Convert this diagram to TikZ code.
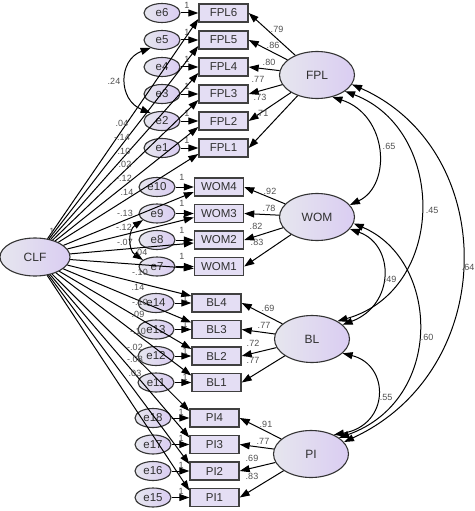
\documentclass[tikz,border=0pt]{standalone}
\usepackage{fontspec}
\setmainfont{Liberation Sans}
\usetikzlibrary{arrows.meta,calc,shapes.geometric}
\definecolor{boxfill}{HTML}{E4DEF4}
\definecolor{ellL}{HTML}{E6E6EE}
\definecolor{ellR}{HTML}{DACDF2}
\definecolor{txt}{HTML}{303030}
\definecolor{lbl}{HTML}{505050}
\begin{document}
\begin{tikzpicture}[x=1pt,y=-1pt,
  ind/.style={draw=black!75,line width=1.4pt,fill=boxfill,minimum width=49pt,minimum height=18pt,inner sep=0pt,font=\fontsize{11.5}{12}\selectfont,text=txt},
  err/.style={ellipse,draw=black!80,line width=1.1pt,left color=ellL,right color=ellR,minimum width=36pt,minimum height=19pt,inner sep=0pt,font=\fontsize{11.5}{12}\selectfont,text=txt},
  lat/.style={ellipse,draw=black!80,line width=1.1pt,left color=ellL,right color=ellR,minimum width=75pt,minimum height=47pt,inner sep=0pt,font=\fontsize{12}{13}\selectfont,text=txt},
  arr/.style={-{Triangle[length=10pt,width=7pt]},line width=1pt,black},
  cor/.style={{Triangle[length=10pt,width=7pt]}-{Triangle[length=10pt,width=7pt]},line width=1pt,black},
  num/.style={font=\fontsize{9}{10}\selectfont,text=lbl,inner sep=0pt},
]
\useasboundingbox (0,0) rectangle (474,511);

% latent variables
\node[lat,minimum width=70pt,minimum height=38pt] (clf) at (35,257) {CLF};
\node[lat] (fpl) at (317,75) {FPL};
\node[lat] (wom) at (317,217) {WOM};
\node[lat] (bl) at (312,339) {BL};
\node[lat] (pi) at (311,454) {PI};

% FPL indicators
\foreach \n/\y in {6/13,5/40,4/67,3/94,2/121,1/148}{
  \node[ind] (fpl\n) at (223.5,\y) {FPL\n};
  \node[err] (e\n) at (162,\y) {e\n};
  \draw[arr] (e\n) -- (fpl\n.west);
  \node[num] at (187,\y-8) {1};
}
% WOM indicators
\foreach \n/\e/\y in {4/10/187,3/9/213.5,2/8/240,1/7/266.5}{
  \node[ind] (wom\n) at (219,\y) {WOM\n};
  \node[err] (e\e) at (157,\y) {e\e};
  \draw[arr] (e\e) -- (wom\n.west);
  \node[num] at (182,\y-10) {1};
}
% BL indicators
\foreach \n/\e/\y in {4/14/303,3/13/329.5,2/12/356,1/11/382.5}{
  \node[ind] (bl\n) at (216.5,\y) {BL\n};
  \node[err] (e\e) at (156,\y) {e\e};
  \draw[arr] (e\e) -- (bl\n.west);
  \node[num] at (185,\y-5) {1};
}
% PI indicators
\foreach \n/\e/\y in {4/18/418,3/17/444.5,2/16/471,1/15/497.5}{
  \node[ind] (pi\n) at (214.5,\y) {PI\n};
  \node[err] (e\e) at (153,\y) {e\e};
  \draw[arr] (e\e) -- (pi\n.west);
  \node[num] at (181,\y-6) {1};
}

% CLF paths
\foreach \n in {1,...,6}{ \draw[arr] (clf) -- ($(fpl\n.west)+(0,6)$); }
\foreach \n/\d in {4/5,3/4,2/3,1/2}{ \draw[arr] (clf) -- ($(wom\n.west)+(0,\d)$); }
\foreach \n in {1,...,4}{ \draw[arr] (clf) -- ($(bl\n.west)+(0,-7)$); }
\foreach \n in {1,...,4}{ \draw[arr] (clf) -- ($(pi\n.west)+(0,-7)$); }
\node[num] at (52,231) {1};

% CLF path labels
\foreach \t/\x/\y in {.04/122/123,-.14/122/137,.10/124/151,.02/125/164,-.12/124/178,.14/127/192,-.13/125/213,-.12/124/227,-.07/125/242,-.10/140/272,.14/138/287,-.10/140/302,.09/138/314,-.10/138/331,-.02/135/347,-.08/135/359,.03/135/373}{
  \node[num] at (\x,\y) {\t};
}

% loadings
\foreach \n in {1,...,6}{ \draw[arr] (fpl) -- (fpl\n.east); }
\foreach \n in {1,...,4}{ \draw[arr] (wom) -- (wom\n.east); }
\foreach \n in {1,...,4}{ \draw[arr] (bl) -- (bl\n.east); }
\foreach \n in {1,...,4}{ \draw[arr] (pi) -- (pi\n.east); }
\foreach \t/\x/\y in {.79/277/29,.86/273/45,.80/269/62,.77/258/79,.73/260/97,.71/262/113,
  .92/270/191,.78/269/208,.82/256/226,.83/257/242,
  .69/268/308,.77/264/325,.72/253/343,.77/253/360,
  .91/266/424,.77/263/441,.69/252/458,.83/252/476}{
  \node[num] at (\x,\y) {\t};
}

% error covariances
\draw[cor] (e5.215) .. controls (118,60) and (118,100) .. (e2.145);
\node[num] at (114,81) {.24};
\draw[cor] (e9.205) .. controls (128,230) and (128,250) .. (e7.155);
\node[num] at (141,252) {.04};

% latent correlations
\draw[cor] (fpl.-55) .. controls (388,115) and (392,185) .. (wom.20);
\draw[cor] (fpl.-30) .. controls (447,130) and (447,290) .. (bl.35);
\draw[cor] (fpl.-15) .. controls (500,150) and (500,370) .. (pi.20);
\draw[cor] (wom.-20) .. controls (395,245) and (395,305) .. (bl.25);
\draw[cor] (wom.-10) .. controls (440,260) and (445,400) .. (pi.30);
\draw[cor] (bl.-25) .. controls (390,365) and (390,425) .. (pi.40);
\node[num] at (389,146) {.65};
\node[num] at (432,210) {.45};
\node[num] at (468,267) {.64};
\node[num] at (390,279) {.49};
\node[num] at (427,337) {.60};
\node[num] at (386,397) {.55};
\end{tikzpicture}
\end{document}
